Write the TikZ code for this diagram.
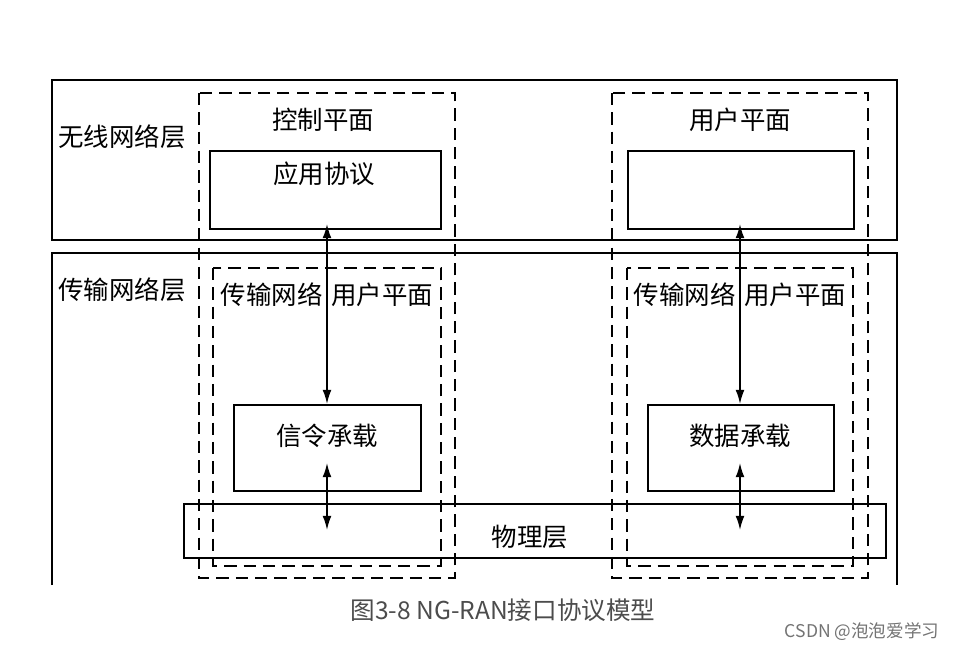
\documentclass[tikz,border=0pt]{standalone}
\usepackage{fontspec}
\newfontfamily\cjk{Noto Sans CJK SC}
\newfontfamily\cjkm{Noto Sans CJK SC Medium}
\usetikzlibrary{arrows.meta}
\begin{document}
\begin{tikzpicture}[x=0.02cm,y=-0.02cm,
  solidbox/.style={draw,line width=1pt},
  dbox/.style={draw,line width=1.1pt,dash pattern=on 7pt off 4pt},
  lbl/.style={font=\cjk\fontsize{14.5pt}{16pt}\selectfont},
  arr/.style={line width=0.9pt,{Latex[length=8pt,width=5pt]}-{Latex[length=8pt,width=5pt]}}]
\useasboundingbox (0,0) rectangle (961,650);
% bands
\draw[line width=1.2pt] (52,80) rectangle (897,240);
\draw[line width=0.8pt] (52,585) -- (52,253) -- (897,253) -- (897,585);
% outer dashed planes
\draw[dbox] (199,93) rectangle (455,578);
\draw[dbox] (612,93) rectangle (868,578);
% inner dashed
\draw[dbox] (213,268) rectangle (441,566);
\draw[dbox] (627,268) rectangle (853,566);
% boxes
\node[solidbox,minimum width=231*0.02cm,minimum height=78*0.02cm,anchor=north west] (app) at (209,150) {};
\node[lbl,anchor=north] at (324,156) {应用协议};
\node[solidbox,minimum width=226*0.02cm,minimum height=78*0.02cm,anchor=north west] (uapp) at (627,150) {};
\node[solidbox,minimum width=187*0.02cm,minimum height=86*0.02cm,anchor=north west] (sig) at (233,404) {};
\node[lbl] at (327,436) {信令承载};
\node[solidbox,minimum width=186*0.02cm,minimum height=86*0.02cm,anchor=north west] (data) at (647,404) {};
\node[lbl] at (740,436) {数据承载};
\node[solidbox,minimum width=702*0.02cm,minimum height=54*0.02cm,anchor=north west] (phy) at (183,503) {};
\node[lbl] at (530,537) {物理层};
% labels
\node[lbl] (cp) at (323,120) {控制平面};
\node[lbl] (up) at (740,120) {用户平面};
\node[lbl] (rnl) at (122,137) {无线网络层};
\node[lbl] (tnl) at (122,290) {传输网络层};
\node[lbl] at (327,295) {传输网络\,\,用户平面};
\node[lbl] at (740,295) {传输网络\,\,用户平面};
% arrows
\coordinate (a1) at (327,224); \coordinate (a2) at (327,404);
\coordinate (b1) at (740,224); \coordinate (b2) at (740,404);
\coordinate (c1) at (327,463); \coordinate (c2) at (327,530);
\coordinate (d1) at (740,463); \coordinate (d2) at (740,530);
\draw[arr] (a1) -- (a2);
\draw[arr] (b1) -- (b2);
\draw[arr] (c1) -- (c2);
\draw[arr] (d1) -- (d2);
% caption
\node[font=\cjk\fontsize{14pt}{16pt}\selectfont,text=black!70] (cap) at (503,610) {图3-8 NG-RAN接口协议模型};
\node[font=\cjk\fontsize{10pt}{12pt}\selectfont,text=black!55] (wm) at (862,632) {CSDN @泡泡爱学习};
\end{tikzpicture}
\end{document}
